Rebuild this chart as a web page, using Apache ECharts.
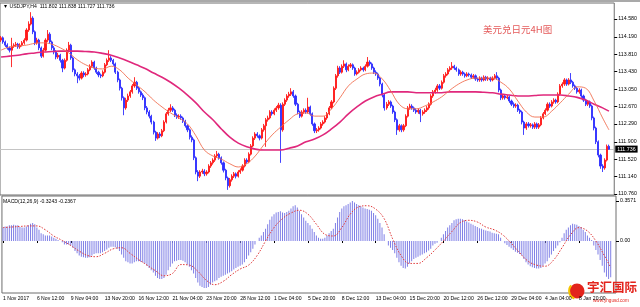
<!DOCTYPE html>
<html><head><meta charset="utf-8">
<script src="https://cdn.jsdelivr.net/npm/echarts@6/dist/echarts.min.js"></script>
<style>html,body{margin:0;padding:0;background:#fff}#c{width:640px;height:307px}</style>
</head><body><div id="c"></div>
<script>
const dateLabels = ['1 Nov 2017','6 Nov 12:00','9 Nov 04:00','13 Nov 20:00','16 Nov 12:00','21 Nov 04:00','23 Nov 20:00','28 Nov 12:00','1 Dec 04:00','5 Dec 20:00','8 Dec 12:00','13 Dec 04:00','15 Dec 20:00','20 Dec 12:00','26 Dec 12:00','29 Dec 04:00','4 Jan 04:00','8 Jan 20:00'];
const priceTicks = [110.760,111.140,111.520,111.900,112.290,112.670,113.050,113.430,113.810,114.190,114.580];
const macdTicks = [0.3571, 0];

const opens = [114.12,114.17,114.08,114.01,113.95,113.90,113.99,114.01,114.03,113.97,
114.01,114.06,114.12,114.34,114.47,114.60,114.30,114.06,114.12,113.95,
113.77,113.90,114.12,114.25,114.08,113.95,113.86,113.75,113.79,113.68,
113.51,113.68,113.90,114.01,113.73,113.47,113.38,113.34,113.29,113.40,
113.36,113.38,113.47,113.55,113.64,113.51,113.42,113.36,113.34,113.42,
113.58,113.68,113.73,113.68,113.60,113.42,113.25,113.07,112.86,112.64,
112.81,112.90,112.99,113.12,113.20,113.07,112.99,112.92,112.86,112.64,
112.55,112.46,112.33,112.11,111.98,112.07,112.03,112.14,112.33,112.51,
112.59,112.64,112.59,112.48,112.44,112.46,112.42,112.35,112.25,112.16,
112.00,111.94,111.55,111.24,111.15,111.24,111.26,111.20,111.24,111.37,
111.44,111.50,111.59,111.63,111.55,111.44,111.28,111.11,110.94,111.07,
111.15,111.20,111.15,111.24,111.28,111.37,111.50,111.46,111.63,111.81,
111.98,112.07,112.03,111.98,112.16,112.25,112.38,112.42,112.55,112.51,
112.59,112.64,112.70,112.16,112.72,112.81,112.90,112.94,112.99,112.90,
112.72,112.55,112.46,112.55,112.59,112.55,112.66,112.51,112.29,112.14,
112.16,112.20,112.29,112.33,112.42,112.51,112.64,112.77,113.07,113.34,
113.51,113.42,113.55,113.60,113.47,113.55,113.58,113.51,113.38,113.42,
113.47,113.51,113.47,113.55,113.64,113.60,113.51,113.42,113.38,113.29,
113.16,112.92,112.64,112.72,112.77,112.68,112.55,112.38,112.16,112.25,
112.16,112.25,112.46,112.64,112.68,112.64,112.59,112.55,112.59,112.51,
112.55,112.59,112.64,112.72,112.90,112.99,113.03,113.12,113.07,113.20,
113.34,113.38,113.47,113.51,113.55,113.51,113.47,113.38,113.42,113.38,
113.34,113.38,113.36,113.31,113.34,113.27,113.25,113.29,113.25,113.31,
113.27,113.29,113.25,113.29,113.34,113.29,113.03,112.86,112.90,112.86,
112.88,112.79,112.72,112.68,112.70,112.59,112.55,112.33,112.20,112.29,
112.25,112.27,112.22,112.29,112.22,112.27,112.42,112.51,112.59,112.72,
112.68,112.77,112.81,112.77,112.94,113.12,113.16,113.25,113.16,113.25,
113.20,113.12,113.07,112.99,113.03,112.90,112.81,112.72,112.77,112.68,
112.42,112.20,111.90,111.61,111.37,111.33,111.50,111.802];

const closes = [114.17,114.08,114.01,113.95,113.90,113.99,114.01,114.03,113.97,114.01,
114.06,114.12,114.34,114.47,114.60,114.30,114.06,114.12,113.95,113.77,
113.90,114.12,114.25,114.08,113.95,113.86,113.75,113.79,113.68,113.51,
113.68,113.90,114.01,113.73,113.47,113.38,113.34,113.29,113.40,113.36,
113.38,113.47,113.55,113.64,113.51,113.42,113.36,113.34,113.42,113.58,
113.68,113.73,113.68,113.60,113.42,113.25,113.07,112.86,112.64,112.81,
112.90,112.99,113.12,113.20,113.07,112.99,112.92,112.86,112.64,112.55,
112.46,112.33,112.11,111.98,112.07,112.03,112.14,112.33,112.51,112.59,
112.64,112.59,112.48,112.44,112.46,112.42,112.35,112.25,112.16,112.00,
111.94,111.55,111.24,111.15,111.24,111.26,111.20,111.24,111.37,111.44,
111.50,111.59,111.63,111.55,111.44,111.28,111.11,110.94,111.07,111.15,
111.20,111.15,111.24,111.28,111.37,111.50,111.46,111.63,111.81,111.98,
112.07,112.03,111.98,112.16,112.25,112.38,112.42,112.55,112.51,112.59,
112.64,112.70,112.16,112.72,112.81,112.90,112.94,112.99,112.90,112.72,
112.55,112.46,112.55,112.59,112.55,112.66,112.51,112.29,112.14,112.16,
112.20,112.29,112.33,112.42,112.51,112.64,112.77,113.07,113.34,113.51,
113.42,113.55,113.60,113.47,113.55,113.58,113.51,113.38,113.42,113.47,
113.51,113.47,113.55,113.64,113.60,113.51,113.42,113.38,113.29,113.16,
112.92,112.64,112.72,112.77,112.68,112.55,112.38,112.16,112.25,112.16,
112.25,112.46,112.64,112.68,112.64,112.59,112.55,112.59,112.51,112.55,
112.59,112.64,112.72,112.90,112.99,113.03,113.12,113.07,113.20,113.34,
113.38,113.47,113.51,113.55,113.51,113.47,113.38,113.42,113.38,113.34,
113.38,113.36,113.31,113.34,113.27,113.25,113.29,113.25,113.31,113.27,
113.29,113.25,113.29,113.34,113.29,113.03,112.86,112.90,112.86,112.88,
112.79,112.72,112.68,112.70,112.59,112.55,112.33,112.20,112.29,112.25,
112.27,112.22,112.29,112.22,112.27,112.42,112.51,112.59,112.72,112.68,
112.77,112.81,112.77,112.94,113.12,113.16,113.25,113.16,113.25,113.20,
113.12,113.07,112.99,113.03,112.90,112.81,112.72,112.77,112.68,112.42,
112.20,111.90,111.61,111.37,111.33,111.50,111.80,111.736];

const highs = [114.21,114.20,114.11,114.05,113.98,114.17,114.05,114.08,114.06,114.05,
114.10,114.16,114.38,114.53,114.73,114.64,114.33,114.17,114.15,113.98,
113.95,114.16,114.34,114.29,114.11,113.99,113.90,113.84,113.82,113.71,
113.72,113.94,114.08,114.04,113.76,113.50,113.42,113.38,113.44,113.44,
113.42,113.51,113.59,113.68,113.67,113.54,113.45,113.39,113.46,113.62,
113.72,113.90,113.77,113.71,113.63,113.45,113.28,113.10,112.89,112.86,
112.95,113.03,113.16,113.31,113.23,113.10,113.02,112.96,112.89,112.68,
112.59,112.49,112.36,112.14,112.11,112.11,112.18,112.37,112.55,112.64,
112.72,112.68,112.62,112.52,112.50,112.50,112.45,112.38,112.28,112.19,
112.04,111.97,111.58,111.28,111.28,111.31,111.30,111.28,111.41,111.48,
111.54,111.63,111.70,111.66,111.58,111.47,111.31,111.14,111.11,111.19,
111.24,111.23,111.28,111.32,111.41,111.54,111.54,111.67,111.85,112.02,
112.11,112.11,112.06,112.20,112.29,112.42,112.47,112.59,112.59,112.63,
112.68,112.75,112.74,112.76,112.85,112.94,112.99,113.07,113.03,112.93,
112.75,112.58,112.59,112.63,112.63,112.86,112.69,112.54,112.32,112.20,
112.24,112.33,112.37,112.46,112.55,112.68,112.81,113.11,113.38,113.56,
113.55,113.59,113.68,113.63,113.59,113.62,113.61,113.54,113.46,113.51,
113.55,113.54,113.59,113.75,113.68,113.63,113.54,113.46,113.41,113.32,
113.19,112.95,112.77,112.81,112.80,112.71,112.58,112.41,112.29,112.28,
112.29,112.50,112.68,112.73,112.72,112.67,112.63,112.63,112.62,112.59,
112.63,112.68,112.76,112.94,113.03,113.08,113.16,113.16,113.24,113.38,
113.42,113.51,113.55,113.64,113.58,113.54,113.50,113.46,113.45,113.41,
113.42,113.41,113.39,113.38,113.37,113.30,113.33,113.32,113.35,113.34,
113.33,113.32,113.33,113.38,113.42,113.32,113.06,112.94,112.93,112.92,
112.91,112.82,112.76,112.74,112.73,112.62,112.58,112.36,112.33,112.33,
112.31,112.30,112.33,112.32,112.31,112.46,112.55,112.63,112.76,112.76,
112.81,112.85,112.84,112.98,113.16,113.20,113.29,113.28,113.29,113.40,
113.23,113.15,113.10,113.07,113.06,112.93,112.84,112.81,112.80,112.71,
112.45,112.23,111.93,111.64,111.41,111.54,111.84,111.838];

const lows = [114.08,114.04,113.97,113.91,113.85,113.53,113.95,113.97,113.93,113.93,
113.98,114.02,114.09,114.30,114.44,114.25,114.01,114.02,113.90,113.73,
113.74,113.87,114.08,114.04,113.90,113.81,113.70,113.71,113.63,113.42,
113.48,113.65,113.86,113.69,113.42,113.33,113.18,113.24,113.26,113.31,
113.32,113.35,113.44,113.52,113.47,113.38,113.31,113.29,113.31,113.39,
113.55,113.64,113.64,113.56,113.38,113.20,113.02,112.80,112.48,112.60,
112.77,112.86,112.95,113.08,113.03,112.95,112.88,112.81,112.59,112.50,
112.41,112.28,112.06,111.92,111.95,111.98,112.00,112.11,112.30,112.47,
112.55,112.55,112.44,112.40,112.40,112.38,112.31,112.21,112.11,111.95,
111.89,111.50,111.19,111.04,111.11,111.20,111.15,111.16,111.21,111.33,
111.40,111.46,111.55,111.51,111.40,111.23,111.06,110.85,110.90,111.03,
111.11,111.10,111.12,111.20,111.25,111.34,111.42,111.43,111.60,111.78,
111.94,111.99,111.93,111.95,112.12,111.79,112.34,112.39,112.47,112.48,
112.55,112.60,111.44,112.12,112.68,112.77,112.86,112.90,112.86,112.68,
112.50,112.42,112.43,112.51,112.51,112.52,112.47,112.25,112.09,112.09,
112.12,112.17,112.25,112.30,112.38,112.48,112.61,112.74,113.03,113.30,
113.38,113.39,113.51,113.42,113.44,113.51,113.47,113.34,113.35,113.39,
113.44,113.43,113.44,113.52,113.56,113.47,113.38,113.34,113.25,113.11,
112.87,112.58,112.60,112.68,112.64,112.51,112.33,112.05,112.12,112.11,
112.12,112.22,112.43,112.60,112.60,112.55,112.51,112.51,112.33,112.47,
112.51,112.55,112.60,112.69,112.86,112.95,112.99,113.03,113.04,113.17,
113.30,113.35,113.43,113.47,113.47,113.43,113.34,113.34,113.34,113.30,
113.31,113.32,113.27,113.28,113.23,113.21,113.21,113.21,113.22,113.23,
113.23,113.21,113.22,113.26,113.25,112.98,112.81,112.82,112.82,112.83,
112.75,112.68,112.64,112.64,112.55,112.51,112.28,112.05,112.16,112.21,
112.21,112.18,112.18,112.18,112.18,112.24,112.39,112.48,112.56,112.64,
112.65,112.73,112.73,112.74,112.91,113.08,113.12,113.12,113.13,113.16,
113.08,113.03,112.95,112.95,112.86,112.77,112.68,112.68,112.64,112.37,
112.15,111.85,111.56,111.31,111.24,111.29,111.47,111.727];

// moving averages and MACD signal, read every 4th bar (last one at the final bar)
const maSlow = [113.75,113.77,113.79,113.82,113.84,113.86,113.87,113.88,113.88,113.88,113.87,113.86,113.83,113.79,113.73,113.66,113.58,113.50,113.40,113.31,113.20,113.07,112.92,112.75,112.55,112.38,112.18,112.00,111.87,111.79,111.74,111.72,111.72,111.72,111.76,111.81,111.90,111.96,112.05,112.18,112.33,112.51,112.66,112.79,112.88,112.94,112.99,112.99,112.99,112.97,112.97,112.97,112.97,112.99,112.99,112.99,112.99,112.98,112.97,112.94,112.92,112.90,112.90,112.91,112.92,112.92,112.92,112.90,112.87,112.81,112.72,112.64,112.57];
const maFast = [113.90,113.97,113.99,114.01,114.05,114.06,114.03,113.95,113.84,113.69,113.58,113.51,113.49,113.55,113.47,113.29,113.14,112.99,112.81,112.66,112.53,112.42,112.29,112.03,111.72,111.59,111.52,111.42,111.35,111.42,111.59,111.83,112.05,112.22,112.38,112.51,112.53,112.46,112.46,112.62,112.86,113.12,113.27,113.38,113.40,113.27,113.01,112.72,112.62,112.62,112.68,112.77,112.88,113.03,113.16,113.25,113.29,113.29,113.29,113.20,113.05,112.79,112.55,112.44,112.44,112.57,112.75,112.94,113.10,113.07,112.79,112.42,112.16];
const macdSignal = [0.12,0.125,0.13,0.135,0.135,0.10,0.045,0.005,-0.04,-0.09,-0.13,-0.14,-0.11,-0.07,-0.06,-0.11,-0.165,-0.215,-0.265,-0.31,-0.29,-0.21,-0.215,-0.27,-0.35,-0.39,-0.36,-0.30,-0.25,-0.215,-0.13,0.0,0.12,0.2,0.25,0.275,0.24,0.15,0.06,0.045,0.12,0.24,0.305,0.315,0.285,0.2,0.02,-0.13,-0.2,-0.2,-0.15,-0.08,0.0,0.085,0.165,0.185,0.17,0.125,0.1,0.055,-0.02,-0.105,-0.18,-0.215,-0.225,-0.17,-0.06,0.055,0.12,0.09,0.0,-0.13,-0.2367];

const macdMain = [0.12,0.13,0.13,0.14,0.14,0.145,0.14,0.14,0.125,0.12,
0.12,0.13,0.14,0.155,0.16,0.15,0.12,0.10,0.07,0.06,
0.05,0.05,0.05,0.04,0.03,0.02,0.01,0.0,-0.01,-0.03,
-0.03,-0.03,-0.04,-0.06,-0.09,-0.11,-0.13,-0.14,-0.145,-0.15,
-0.15,-0.145,-0.13,-0.115,-0.11,-0.11,-0.11,-0.10,-0.09,-0.075,
-0.06,-0.05,-0.05,-0.055,-0.07,-0.09,-0.12,-0.15,-0.18,-0.19,
-0.20,-0.20,-0.19,-0.18,-0.18,-0.185,-0.19,-0.20,-0.22,-0.24,
-0.26,-0.28,-0.31,-0.33,-0.34,-0.34,-0.33,-0.30,-0.26,-0.23,
-0.20,-0.18,-0.175,-0.17,-0.17,-0.175,-0.19,-0.21,-0.23,-0.26,
-0.29,-0.33,-0.37,-0.40,-0.41,-0.42,-0.42,-0.41,-0.39,-0.37,
-0.36,-0.35,-0.33,-0.32,-0.31,-0.30,-0.29,-0.28,-0.27,-0.255,
-0.24,-0.23,-0.22,-0.21,-0.19,-0.16,-0.13,-0.10,-0.07,-0.03,
0.0,0.03,0.05,0.08,0.11,0.15,0.19,0.22,0.24,0.255,
0.26,0.265,0.255,0.25,0.26,0.27,0.29,0.31,0.32,0.30,
0.27,0.24,0.21,0.18,0.16,0.14,0.11,0.08,0.05,0.03,
0.02,0.02,0.03,0.05,0.07,0.09,0.11,0.16,0.21,0.26,
0.29,0.31,0.32,0.33,0.345,0.357,0.345,0.33,0.32,0.31,
0.30,0.29,0.285,0.28,0.27,0.25,0.23,0.20,0.16,0.12,
0.06,0.0,-0.04,-0.06,-0.08,-0.11,-0.15,-0.19,-0.22,-0.24,
-0.245,-0.23,-0.20,-0.18,-0.16,-0.15,-0.14,-0.13,-0.12,-0.11,
-0.10,-0.085,-0.07,-0.04,-0.025,-0.015,0.0,0.03,0.06,0.09,
0.12,0.14,0.16,0.185,0.195,0.20,0.20,0.195,0.185,0.175,
0.165,0.155,0.145,0.135,0.125,0.115,0.11,0.10,0.095,0.09,
0.085,0.075,0.07,0.065,0.06,0.03,0.0,-0.02,-0.035,-0.05,
-0.065,-0.08,-0.095,-0.105,-0.115,-0.13,-0.16,-0.19,-0.21,-0.225,
-0.235,-0.24,-0.245,-0.245,-0.24,-0.22,-0.20,-0.18,-0.15,-0.12,
-0.09,-0.065,-0.04,-0.01,0.03,0.07,0.10,0.12,0.14,0.155,
0.15,0.145,0.135,0.125,0.10,0.08,0.05,0.03,0.01,-0.04,
-0.08,-0.12,-0.17,-0.22,-0.28,-0.32,-0.34,-0.3243];

const lastPrice = 111.736;
const titleText = '\u25BC USDJPY,H4  111.802 111.838 111.727 111.736';
const macdTitle = 'MACD(12,26,9) -0.3243 -0.2367';
const noteText = '美元兑日元4H图';

// ---- build ----
const SLOTS = 290, LABEL_EVERY = 16, SAMPLE = 4;
const cats = [];
for (let i = 0; i < SLOTS; i++) {
  const k = i / LABEL_EVERY;
  cats.push(i % LABEL_EVERY === 0 && k < dateLabels.length ? dateLabels[k] : '');
}
const nBars = closes.length;
const candles = closes.map((c, i) => [opens[i], c, lows[i], highs[i]]);
function sampled(arr) {
  return arr.map((v, k) => [Math.min(k * SAMPLE, nBars - 1), v]);
}
const FONT = 'Liberation Sans';
const FS = 5.1;
const chart = echarts.init(document.getElementById('c'), null, {renderer: 'canvas', width: 640, height: 307});
chart.setOption({
  animation: false,
  backgroundColor: '#ffffff',
  grid: [
    {left: 0, top: 3, width: 616, height: 192, show: true, borderColor: '#6e6e6e', borderWidth: 1, backgroundColor: '#fff'},
    {left: 0, top: 196, width: 616, height: 97, show: true, borderColor: '#6e6e6e', borderWidth: 1, backgroundColor: '#fff'}
  ],
  xAxis: [
    {type: 'category', gridIndex: 0, data: cats, boundaryGap: true,
     axisLine: {show: false}, axisTick: {show: false}, axisLabel: {show: false}, splitLine: {show: false}},
    {type: 'category', gridIndex: 1, data: cats, boundaryGap: true,
     axisLine: {show: false},
     axisTick: {show: true, alignWithLabel: true, length: 2, interval: (i) => cats[i] !== '', lineStyle: {color: '#000'}},
     axisLabel: {show: true, interval: (i) => cats[i] !== '', align: 'left', margin: 3,
       fontSize: FS, fontFamily: FONT, color: '#000'},
     splitLine: {show: false}}
  ],
  yAxis: [
    {type: 'value', gridIndex: 0, position: 'right', min: 110.738, max: 114.93,
     splitLine: {show: false}, axisLine: {show: false},
     axisTick: {show: true, customValues: priceTicks, length: 3, lineStyle: {color: '#000'}},
     axisLabel: {show: true, customValues: priceTicks, formatter: (v) => v.toFixed(3),
       fontSize: 5.3, fontFamily: FONT, color: '#000', margin: 4}},
    {type: 'value', gridIndex: 1, position: 'right', min: -0.464, max: 0.402,
     splitLine: {show: false}, axisLine: {show: false},
     axisTick: {show: true, customValues: macdTicks, length: 3, lineStyle: {color: '#000'}},
     axisLabel: {show: true, customValues: macdTicks, formatter: (v) => v === 0 ? '0.00' : v.toFixed(4),
       fontSize: 5.3, fontFamily: FONT, color: '#000', margin: 4}}
  ],
  series: [
    {type: 'candlestick', xAxisIndex: 0, yAxisIndex: 0, data: candles, barWidth: 1.6,
     itemStyle: {color: '#ff1a1a', color0: '#2f2fff', borderColor: '#ff1a1a', borderColor0: '#2f2fff', borderWidth: 0.9},
     markLine: {symbol: 'none', silent: true, z: 1,
       data: [{yAxis: lastPrice}],
       lineStyle: {color: '#c4c4c4', width: 1, type: 'solid'},
       label: {show: true, position: 'end', distance: 1, formatter: lastPrice.toFixed(3),
         backgroundColor: '#000', color: '#fff', fontSize: 5.3, fontFamily: FONT, padding: [1, 2, 1, 2]}}},
    {type: 'line', xAxisIndex: 0, yAxisIndex: 0, data: sampled(maSlow), showSymbol: false, smooth: 0.4,
     lineStyle: {color: '#e0287c', width: 1.6}, z: 3},
    {type: 'line', xAxisIndex: 0, yAxisIndex: 0, data: sampled(maFast), showSymbol: false, smooth: 0.4,
     lineStyle: {color: '#f07052', width: 0.9}, z: 3},
    {type: 'bar', xAxisIndex: 1, yAxisIndex: 1, data: macdMain, barWidth: 1,
     itemStyle: {color: '#7f7fe6'}},
    {type: 'line', xAxisIndex: 1, yAxisIndex: 1, data: sampled(macdSignal), showSymbol: false, smooth: 0.4,
     lineStyle: {color: '#e03a3a', width: 1, type: [1.5, 1.5]}, z: 3}
  ],
  graphic: [
    {type: 'rect', shape: {x: 0, y: 0, width: 640, height: 2}, style: {fill: '#a9a9a9'}, silent: true},
    {type: 'text', left: 3, top: 4, style: {text: titleText, fontSize: FS, fontFamily: FONT, fill: '#000'}},
    {type: 'text', left: 3, top: 199, style: {text: macdTitle, fontSize: FS, fontFamily: FONT, fill: '#000'}},
    {type: 'text', left: 483, top: 25, style: {text: noteText, fontSize: 9.5, fontFamily: 'Noto Sans CJK SC', fill: '#e45a5a'}},
    {type: 'circle', shape: {cx: 577, cy: 291, r: 7.5}, style: {fill: '#e3241c'}},
    {type: 'arc', shape: {cx: 577, cy: 291, r: 8, startAngle: 1.9, endAngle: 3.9}, style: {stroke: '#f5c400', lineWidth: 2, fill: null}},
    {type: 'text', left: 587, top: 281, style: {text: '宇汇国际', fontSize: 12.5, fontWeight: 'bold', fontFamily: 'Noto Sans CJK SC', fill: '#e3241c'}},
    {type: 'text', left: 593, top: 298, style: {text: 'www.yhgusd.com', fontSize: 4.6, fontFamily: FONT, fill: '#e3241c'}}
  ]
});
</script>
</body></html>
